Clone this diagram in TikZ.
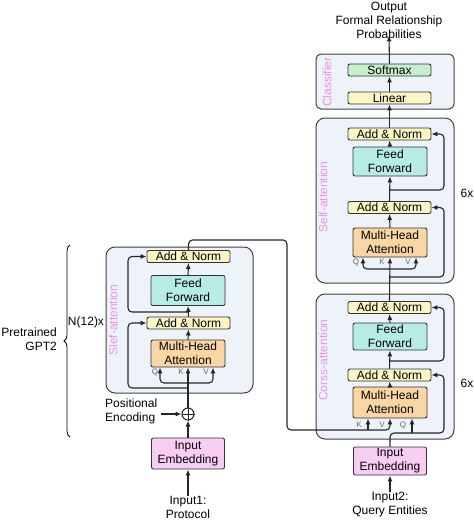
\documentclass[tikz,border=0pt]{standalone}
\usepackage{fontspec}
\setmainfont{Liberation Sans}
\usetikzlibrary{arrows.meta,decorations.pathreplacing}
\definecolor{panelbg}{HTML}{EEF3FA}
\definecolor{addcol}{HTML}{FBF6C4}
\definecolor{ffcol}{HTML}{B6ECE5}
\definecolor{mhacol}{HTML}{F9D6A4}
\definecolor{embcol}{HTML}{F8CDF2}
\definecolor{smcol}{HTML}{C6EFCB}
\definecolor{taglabel}{HTML}{EE90E4}

\begin{document}
\begin{tikzpicture}[x=1pt,y=-1pt,
  every node/.style={font=\fontsize{12}{14}\selectfont,inner sep=0pt},
  panel/.style={draw=black!75,fill=panelbg,line width=1pt,rounded corners=9pt},
  block/.style={draw=black!80,line width=0.9pt,rounded corners=2pt,align=center},
  addnorm/.style={block,fill=addcol,minimum width=83pt,minimum height=12pt},
  ffbox/.style={block,fill=ffcol,minimum width=74pt,minimum height=30pt},
  mhabox/.style={block,fill=mhacol,minimum width=74pt,minimum height=29pt},
  embbox/.style={block,fill=embcol,minimum width=73pt,minimum height=30pt},
  conn/.style={line width=1.1pt,draw=black!85,rounded corners=4pt},
  arr/.style={conn,-{Latex[length=6pt,width=5pt]}},
  qkv/.style={font=\fontsize{8}{9}\selectfont,text=black!60},
  tag/.style={rotate=90,text=taglabel}]
  \useasboundingbox (0,0) rectangle (474,520);

  % panels
  \node[panel,minimum width=147pt,minimum height=146pt] (gptL) at (179.5,320) {};
  \node[panel,rounded corners=5pt,minimum width=138pt,minimum height=55pt] (clsR) at (385,81.5) {};
  \node[panel,minimum width=138pt,minimum height=165pt] (selfR) at (385,200.5) {};
  \node[panel,minimum width=138pt,minimum height=145pt] (crossR) at (385,366.5) {};
  \node[tag] (tagL) at (113,320) {Slef-attention};
  \node[tag] (tagC) at (327,82) {Classifier};
  \node[tag] (tagS) at (323,197) {Self-attention};
  \node[tag] (tagX) at (323,360) {Corss-attention};

  % left column: pretrained GPT2
  \node[addnorm] (anL1) at (188.5,256.5) {Add \& Norm};
  \node[ffbox] (ffL) at (188,290.5) {Feed\\Forward};
  \node[addnorm] (anL2) at (188.5,323) {Add \& Norm};
  \node[mhabox,minimum height=27pt] (mhaL) at (188,353.5) {Multi-Head\\Attention};
  \node[qkv] (qL) at (155,372) {Q};
  \node[qkv] (kL) at (181,372) {K};
  \node[qkv] (vL) at (206,372) {V};
  \node[circle,draw=black!85,line width=1pt,minimum size=12pt] (plus) at (188,414) {};
  \node[align=left,anchor=west] (pos) at (105,411) {Positional\\Encoding};
  \node[embbox,minimum height=31pt] (embL) at (188,453.5) {Input\\Embedding};
  \node[align=center] (in1) at (188,507) {Input1:\\Protocol};
  \node (rep1) at (86,322) {N(12)x};
  \node[align=right,anchor=east] (gpt) at (57,339) {Pretrained\\GPT2};
  \draw[line width=0.8pt,decorate,decoration={brace,amplitude=6pt}] (70,437) -- (70,245);

  % right column: classifier
  \node[block,fill=smcol,minimum width=83pt,minimum height=12pt] (soft) at (389.5,70) {Softmax};
  \node[addnorm] (lin) at (389.5,98) {Linear};
  \node[align=center] (out) at (389,20) {Output\\Formal Relationship\\Probabilities};

  % right column: self-attention
  \node[addnorm] (anS1) at (389.5,134) {Add \& Norm};
  \node[ffbox,minimum height=29pt] (ffS) at (390,161.5) {Feed\\Forward};
  \node[addnorm] (anS2) at (389.5,207.5) {Add \& Norm};
  \node[mhabox] (mhaS) at (390,242.5) {Multi-Head\\Attention};
  \node[qkv] (qS) at (356,262) {Q};
  \node[qkv] (kS) at (382,262) {K};
  \node[qkv] (vS) at (408,262) {V};
  \node (rep2) at (467,193) {6x};

  % right column: cross-attention
  \node[addnorm] (anC1) at (389.5,307.5) {Add \& Norm};
  \node[ffbox,minimum height=27pt] (ffC) at (390,336.5) {Feed\\Forward};
  \node[addnorm] (anC2) at (389.5,375) {Add \& Norm};
  \node[mhabox,minimum height=31pt] (mhaC) at (390,402.5) {Multi-Head\\Attention};
  \node[qkv] (kC) at (359,425) {K};
  \node[qkv] (vC) at (382,425) {V};
  \node[qkv] (qC) at (403,425) {Q};
  \node (rep3) at (467,383) {6x};
  \node[embbox,minimum height=28pt] (embR) at (390,461) {Input\\Embedding};
  \node[align=center] (in2) at (390,505) {Input2:\\Query Entities};

  % junctions
  \coordinate (brL) at (188,383);
  \coordinate (resL1) at (188,312);
  \coordinate (resL2) at (188,388);
  \coordinate (bend) at (287,240);
  \coordinate (kvC) at (390,430);
  \coordinate (qC0) at (389,433);
  \coordinate (brS) at (390,269);
  \coordinate (resS1) at (390,190);
  \coordinate (resS2) at (390,277);
  \coordinate (resC1) at (390,361);

  % left connectors
  \draw[arr] (in1.north) -- (embL.south);
  \draw[arr] (embL.north) -- (plus.south);
  \draw[line width=1pt,draw=black!85] (plus.north) -- (plus.south) (plus.west) -- (plus.east);
  \draw[arr] ([xshift=4pt]pos.east |- plus) -- (plus.west);
  \draw[arr] (plus.north) -- (mhaL.south);
  \draw[arr] (brL) -| (mhaL.south -| 160,0);
  \draw[arr] (brL) -| (mhaL.south -| 213,0);
  \draw[arr] (mhaL.north) -- (anL2.south);
  \draw[arr] (anL2.north) -- (ffL.south);
  \draw[arr] (ffL.north) -- (anL1.south);
  \draw[arr] (resL2) -- (128,388) |- (anL2.west);
  \draw[arr] (resL1) -- (128,312) |- (anL1.west);
  \draw[arr] (anL1.north) |- (bend) |- (kvC) -- (mhaC.south);
  \draw[arr] (mhaC.south -| 368,0) ++(0,12) -- (mhaC.south -| 368,0);

  % right connectors
  \draw[arr] (in2.north) -- (embR.south);
  \draw[arr] (embR.north) |- (444,433) |- (anC2.east);
  \draw[arr] (mhaC.south -| 412,0) ++(0,15) -- (mhaC.south -| 412,0);
  \draw[arr] (mhaC.north) -- (anC2.south);
  \draw[arr] (anC2.north) -- (ffC.south);
  \draw[arr] (ffC.north) -- (anC1.south);
  \draw[arr] (resC1) -- (444,361) |- (anC1.east);
  \draw[arr] (anC1.north) -- (mhaS.south);
  \draw[arr] (brS) -| (mhaS.south -| 363,0);
  \draw[arr] (brS) -| (mhaS.south -| 416,0);
  \draw[arr] (resS2) -- (444,277) |- (anS2.east);
  \draw[arr] (mhaS.north) -- (anS2.south);
  \draw[arr] (anS2.north) -- (ffS.south);
  \draw[arr] (ffS.north) -- (anS1.south);
  \draw[arr] (resS1) -- (444,190) |- (anS1.east);
  \draw[arr] (anS1.north) -- (lin.south);
  \draw[arr] (lin.north) -- (soft.south);
  \draw[arr] (soft.north) -- ([yshift=3pt]out.south);
\end{tikzpicture}
\end{document}
